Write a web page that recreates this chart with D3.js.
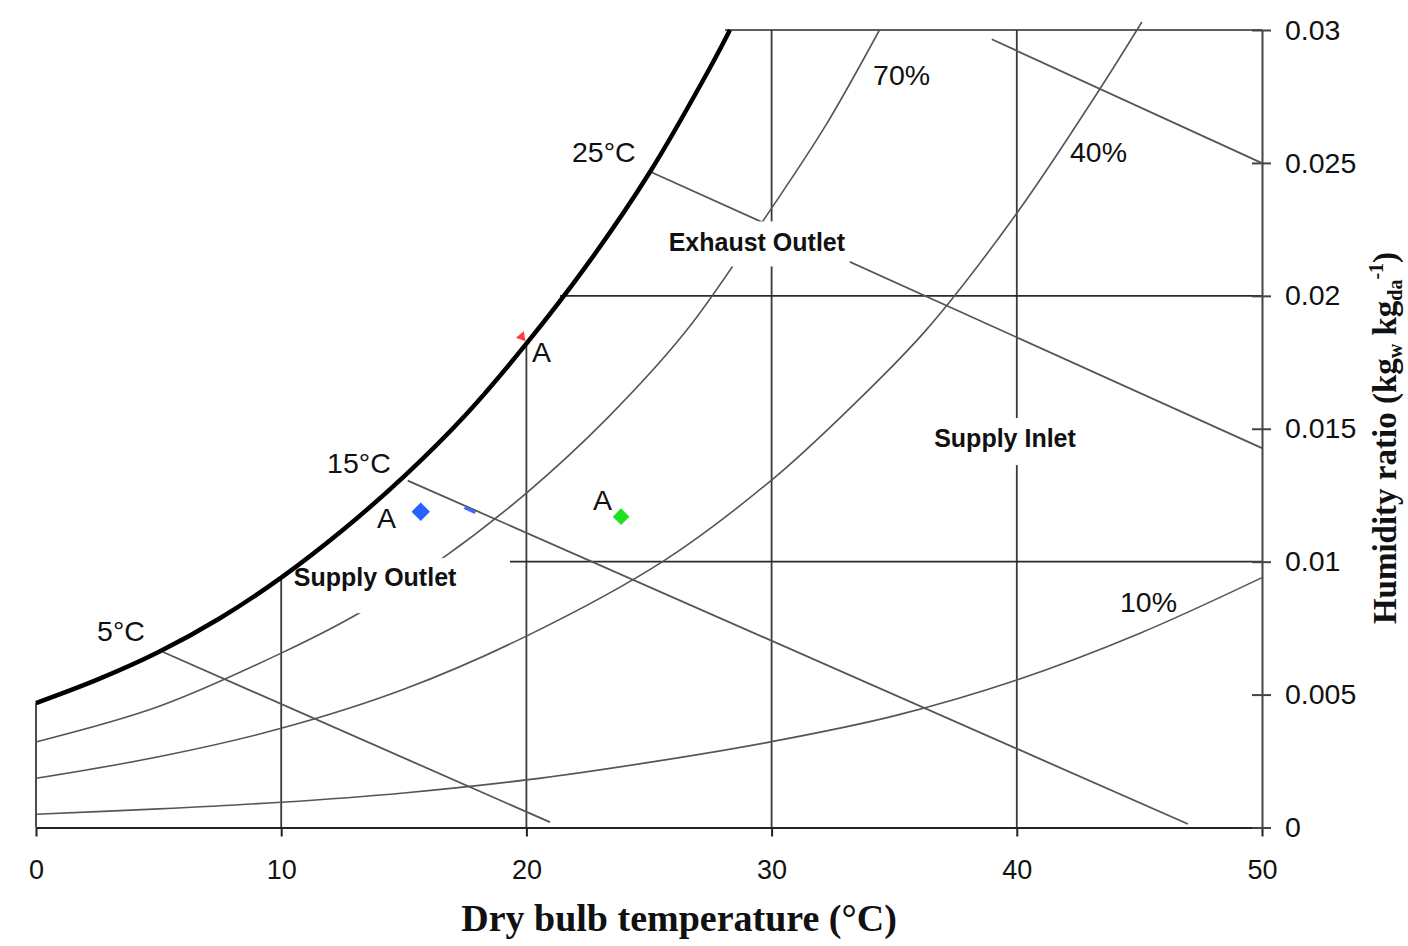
<!DOCTYPE html>
<html>
<head>
<meta charset="utf-8">
<script src="https://cdn.jsdelivr.net/npm/d3@7"></script>
<style>
  body { margin: 0; background: #fff; }
  svg { display: block; }
  text { font-family: "Liberation Sans", Arial, sans-serif; fill: #111; }
  .title { font-family: "Liberation Serif", "Times New Roman", serif; font-weight: bold; }
</style>
</head>
<body>
<div id="chart"></div>
<script>
// axis ticks
var xTicks = [0, 10, 20, 30, 40, 50];
var yTicks = [0, 0.005, 0.01, 0.015, 0.02, 0.025, 0.03];
var yTickLabels = ["0", "0.005", "0.01", "0.015", "0.02", "0.025", "0.03"];

// relative humidity curves as [dry bulb °C, humidity ratio]
var rh100 = [[0, 0.00468], [2.5, 0.00556], [5, 0.0066], [7.5, 0.00787], [10, 0.0094], [12.5, 0.01118],
             [15, 0.0132], [17.5, 0.0155], [20, 0.0182], [22.5, 0.0212], [25, 0.0246], [27.5, 0.0286], [28.3, 0.0300]];
var rh70 = [[0, 0.00322], [5, 0.00455], [10, 0.00656], [13.2, 0.00808], [16.6, 0.01014], [20, 0.01258],
            [23.3, 0.0154], [26.55, 0.01872], [30, 0.0233], [32.2, 0.0264], [34.4, 0.0300]];
var rh40 = [[0, 0.00185], [5, 0.00266], [10, 0.00373], [15, 0.0052], [20, 0.0072], [25.6, 0.01003],
            [30, 0.01307], [33, 0.0156], [36.3, 0.01871], [40, 0.02311], [43.4, 0.0278], [45.1, 0.0303]];
var rh10 = [[0, 0.0005], [5, 0.0007], [10, 0.00095], [15, 0.0013], [20, 0.00179], [25, 0.00245],
            [30, 0.00323], [35, 0.0042], [40, 0.00555], [45, 0.0073], [50, 0.0094]];

// wet bulb lines: start and end
var wb5 = [[5.18, 0.0066], [20.96, 0.0002]];
var wb15 = [[15.16, 0.01305], [46.98, 0.00013]];
var wb25 = [[25.1, 0.02465], [50, 0.01427]];
var wb35 = [[38.98, 0.02965], [50, 0.02499]];

// grid lines that stop at the saturation curve
var vGridT = [0, 10, 20, 30, 40];
var vGridTop = [0.00468, 0.0094, 0.0182, 0.03, 0.03];
var hGridW = [0.01, 0.02, 0.03];
var hGridFrom = [19.33, 21.37, 28.1];

// measured states
var pointT = [15.69, 23.86];
var pointW = [0.01188, 0.01169];
var pointColor = ["#2563ff", "#22e022"];
var redMarkT = 19.81, redMarkW = 0.01846;
var blueDashT = 17.70, blueDashW = 0.01194;

// annotations
var curveLabels = [
  {text: "5°C", t: 2.49, w: 0.00702},
  {text: "15°C", t: 11.87, w: 0.01334},
  {text: "25°C", t: 21.86, w: 0.02504},
  {text: "70%", t: 34.14, w: 0.02793},
  {text: "40%", t: 42.17, w: 0.02504},
  {text: "10%", t: 44.21, w: 0.00811},
  {text: "A", t: 20.23, w: 0.01751},
  {text: "A", t: 13.91, w: 0.01127},
  {text: "A", t: 22.72, w: 0.01194}
];
var boxLabels = [
  {text: "Exhaust Outlet", t: 29.40, w: 0.02167},
  {text: "Supply Outlet", t: 13.83, w: 0.00908},
  {text: "Supply Inlet", t: 39.52, w: 0.01431}
];
// white box padding [top, right, bottom, left]
var boxPad = [[7, 4, 10, 3], [5, 4, 22, 4], [6, 4, 13, 4]];

var W = 1408, H = 946;
var svg = d3.select("#chart").append("svg")
    .attr("width", W)
    .attr("height", H);
svg.append("rect").attr("width", W).attr("height", H).attr("fill", "#fff");

var x = d3.scaleLinear().domain([0, 50]).range([36, 1262]);
var y = d3.scaleLinear().domain([0, 0.03]).range([827.5, 30]);

var line = d3.line()
    .x(function(d) { return x(d[0]); })
    .y(function(d) { return y(d[1]); })
    .curve(d3.curveCatmullRom.alpha(0.5));
var straight = d3.line()
    .x(function(d) { return x(d[0]); })
    .y(function(d) { return y(d[1]); });

// grid
svg.append("g").selectAll("line")
    .data(vGridT)
    .enter().append("line")
    .attr("x1", function(d) { return x(d); })
    .attr("x2", function(d) { return x(d); })
    .attr("y1", function(d, i) { return y(vGridTop[i]); })
    .attr("y2", y(0))
    .attr("stroke", "#3a3a3a")
    .attr("stroke-width", 1.8);

svg.append("g").selectAll("line")
    .data(hGridW)
    .enter().append("line")
    .attr("x1", function(d, i) { return x(hGridFrom[i]); })
    .attr("x2", x(50))
    .attr("y1", function(d) { return y(d); })
    .attr("y2", function(d) { return y(d); })
    .attr("stroke", "#2a2a2a")
    .attr("stroke-width", 1.6);

// x axis
var xAxis = d3.axisBottom(x)
    .tickValues(xTicks)
    .tickFormat(d3.format("d"))
    .tickSize(9)
    .tickSizeOuter(0)
    .tickPadding(23);
var gx = svg.append("g")
    .attr("transform", "translate(0," + y(0) + ")")
    .call(xAxis);
gx.select(".domain").attr("stroke", "#222").attr("stroke-width", 2);
gx.selectAll(".tick line").attr("stroke", "#222").attr("stroke-width", 2);
gx.selectAll(".tick text")
    .attr("font-size", 27)
    .attr("font-family", "Liberation Sans, Arial, sans-serif")
    .attr("fill", "#111");

// y axis on the right
var yAxis = d3.axisRight(y)
    .tickValues(yTicks)
    .tickFormat(function(d, i) { return yTickLabels[i]; })
    .tickSize(9)
    .tickSizeOuter(0)
    .tickPadding(14);
var gy = svg.append("g")
    .attr("transform", "translate(" + x(50) + ",0)")
    .call(yAxis);
gy.select(".domain").attr("stroke", "#444").attr("stroke-width", 2);
gy.selectAll(".tick line").attr("x1", -10).attr("stroke", "#444").attr("stroke-width", 2);
gy.selectAll(".tick text")
    .attr("font-size", 28.5)
    .attr("font-family", "Liberation Sans, Arial, sans-serif")
    .attr("fill", "#111");

// relative humidity curves
[rh70, rh40, rh10].forEach(function(c) {
  svg.append("path")
      .datum(c)
      .attr("d", line)
      .attr("fill", "none")
      .attr("stroke", "#555")
      .attr("stroke-width", 1.6);
});

// wet bulb lines
[wb5, wb15, wb25, wb35].forEach(function(c) {
  svg.append("path")
      .datum(c)
      .attr("d", straight)
      .attr("fill", "none")
      .attr("stroke", "#555")
      .attr("stroke-width", 1.8);
});

// boxed labels (white boxes cut the lines behind them)
boxLabels.forEach(function(l, i) {
  var g = svg.append("g");
  var t = g.append("text")
      .attr("x", x(l.t))
      .attr("y", y(l.w))
      .attr("text-anchor", "middle")
      .attr("font-size", 25)
      .attr("font-weight", "bold")
      .text(l.text);
  var bb = t.node().getBBox(), p = boxPad[i];
  g.insert("rect", "text")
      .attr("x", bb.x - p[3])
      .attr("y", bb.y - p[0])
      .attr("width", bb.width + p[1] + p[3])
      .attr("height", bb.height + p[0] + p[2])
      .attr("fill", "#fff");
});

// small markers partly hidden by the saturation line
svg.append("path")
    .attr("d", d3.symbol(d3.symbolTriangle, 45)())
    .attr("transform", "translate(" + x(redMarkT) + "," + y(redMarkW) + ") rotate(20)")
    .attr("fill", "#ff3b3b");
svg.append("rect")
    .attr("x", -6).attr("y", -1.6).attr("width", 12).attr("height", 3.2)
    .attr("transform", "translate(" + x(blueDashT) + "," + y(blueDashW) + ") rotate(24)")
    .attr("fill", "#3b6cff");

// saturation curve
svg.append("path")
    .datum(rh100)
    .attr("d", line)
    .attr("fill", "none")
    .attr("stroke", "#000")
    .attr("stroke-width", 4.5);

// measured points
svg.append("g").selectAll("path")
    .data(pointT)
    .enter().append("path")
    .attr("d", function(d, i) { return d3.symbol(d3.symbolSquare, i === 0 ? 170 : 140)(); })
    .attr("transform", function(d, i) { return "translate(" + x(d) + "," + y(pointW[i]) + ") rotate(45)"; })
    .attr("fill", function(d, i) { return pointColor[i]; });

// curve labels
svg.append("g").selectAll("text")
    .data(curveLabels)
    .enter().append("text")
    .attr("x", function(d) { return x(d.t); })
    .attr("y", function(d) { return y(d.w); })
    .attr("font-size", 28.5)
    .text(function(d) { return d.text; });

// axis titles
svg.append("text")
    .attr("class", "title")
    .attr("x", 679)
    .attr("y", 931)
    .attr("text-anchor", "middle")
    .attr("font-size", 38)
    .text("Dry bulb temperature (°C)");

var yt = svg.append("text")
    .attr("class", "title")
    .attr("transform", "translate(1396,438) rotate(-90)")
    .attr("text-anchor", "middle")
    .attr("font-size", 33);
yt.append("tspan").text("Humidity ratio (kg");
yt.append("tspan").attr("font-size", 20).attr("dy", 6).text("w");
yt.append("tspan").attr("dy", -6).text(" kg");
yt.append("tspan").attr("font-size", 20).attr("dy", 6).text("da");
yt.append("tspan").attr("font-size", 20).attr("dy", -19).text("-1");
yt.append("tspan").attr("dy", 13).text(")");
</script>
</body>
</html>
